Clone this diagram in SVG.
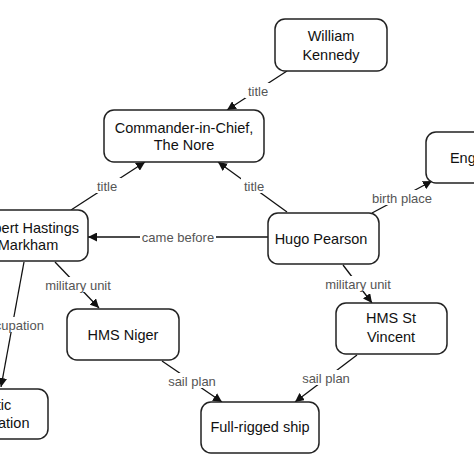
<svg xmlns="http://www.w3.org/2000/svg" width="474" height="474" viewBox="0 0 474 474">
<style>
.box{fill:#fff;stroke:#222;stroke-width:1.5}
.nt{font-family:"Liberation Sans",Arial,sans-serif;font-size:14.5px;fill:#111;text-anchor:middle}
.edge{stroke:#111;stroke-width:1.3;fill:none;marker-end:url(#ah)}
.lb{font-family:"Liberation Sans",Arial,sans-serif;font-size:13px;fill:#555;text-anchor:middle}
.lbg{fill:#fff}
</style>
<defs>
<marker id="ah" viewBox="0 0 10 10" refX="10" refY="5" markerWidth="9" markerHeight="9" markerUnits="userSpaceOnUse" orient="auto">
<path d="M0,0 L10,5 L0,10 z" fill="#111"/>
</marker>
</defs>
<rect width="474" height="474" fill="#fff"/>
<g id="connectors">
<line class="edge" x1="287" y1="71" x2="227" y2="110"/>
<line class="edge" x1="71" y1="210" x2="145" y2="162"/>
<line class="edge" x1="287" y1="212" x2="218" y2="162"/>
<line class="edge" x1="268" y1="237" x2="88" y2="237"/>
<line class="edge" x1="372" y1="213" x2="432" y2="181"/>
<line class="edge" x1="343" y1="265" x2="372" y2="303"/>
<line class="edge" x1="55" y1="262" x2="99" y2="308"/>
<line class="edge" x1="24" y1="262" x2="1" y2="387"/>
<line class="edge" x1="162" y1="361" x2="222" y2="402"/>
<line class="edge" x1="357" y1="355" x2="295" y2="402"/>
<g id="labels">
<rect class="lbg" x="245" y="83" width="27" height="15"/><text class="lb" x="258" y="96">title</text>
<rect class="lbg" x="94" y="178" width="27" height="15"/><text class="lb" x="107" y="191">title</text>
<rect class="lbg" x="241" y="178" width="27" height="15"/><text class="lb" x="254" y="191">title</text>
<rect class="lbg" x="140" y="229" width="76" height="15"/><text class="lb" x="178" y="242">came before</text>
<rect class="lbg" x="369" y="190" width="66" height="15"/><text class="lb" x="402" y="203">birth place</text>
<rect class="lbg" x="324" y="276" width="69" height="15"/><text class="lb" x="358" y="289">military unit</text>
<rect class="lbg" x="44" y="277" width="69" height="15"/><text class="lb" x="78" y="290">military unit</text>
<rect class="lbg" x="-20" y="317" width="65" height="15"/><text class="lb" x="12.5" y="330">occupation</text>
<rect class="lbg" x="166" y="373" width="52" height="15"/><text class="lb" x="192" y="386">sail plan</text>
<rect class="lbg" x="300" y="370" width="52" height="15"/><text class="lb" x="326" y="383">sail plan</text>
</g>
</g>
<g id="william-kennedy"><rect class="box" x="275" y="19" width="112" height="52" rx="10"/><text class="nt" x="331" y="41">William</text><text class="nt" x="331" y="60">Kennedy</text></g>
<g id="commander"><rect class="box" x="104" y="110" width="160" height="52" rx="10"/><text class="nt" x="184" y="133">Commander-in-Chief,</text><text class="nt" x="184" y="150">The Nore</text></g>
<g id="england"><rect class="box" x="426" y="132" width="111" height="51" rx="10"/><text class="nt" x="476.5" y="163">England</text></g>
<g id="markham"><rect class="box" x="-32" y="210" width="120" height="51" rx="10"/><text class="nt" x="27" y="233">Robert Hastings</text><text class="nt" x="28" y="250">Markham</text></g>
<g id="hugo-pearson"><rect class="box" x="268" y="213" width="111" height="51" rx="10"/><text class="nt" x="321" y="244">Hugo Pearson</text></g>
<g id="hms-niger"><rect class="box" x="67" y="309" width="112" height="51" rx="10"/><text class="nt" x="123" y="340">HMS Niger</text></g>
<g id="hms-st-vincent"><rect class="box" x="336" y="303" width="111" height="51" rx="10"/><text class="nt" x="391" y="323">HMS St</text><text class="nt" x="391" y="342">Vincent</text></g>
<g id="arctic-exploration"><rect class="box" x="-62" y="389" width="110" height="50" rx="10"/><text class="nt" x="-7" y="410">Arctic</text><text class="nt" x="-6" y="428">exploration</text></g>
<g id="full-rigged-ship"><rect class="box" x="201" y="402" width="118" height="51" rx="10"/><text class="nt" x="260" y="432">Full-rigged ship</text></g>
</svg>
